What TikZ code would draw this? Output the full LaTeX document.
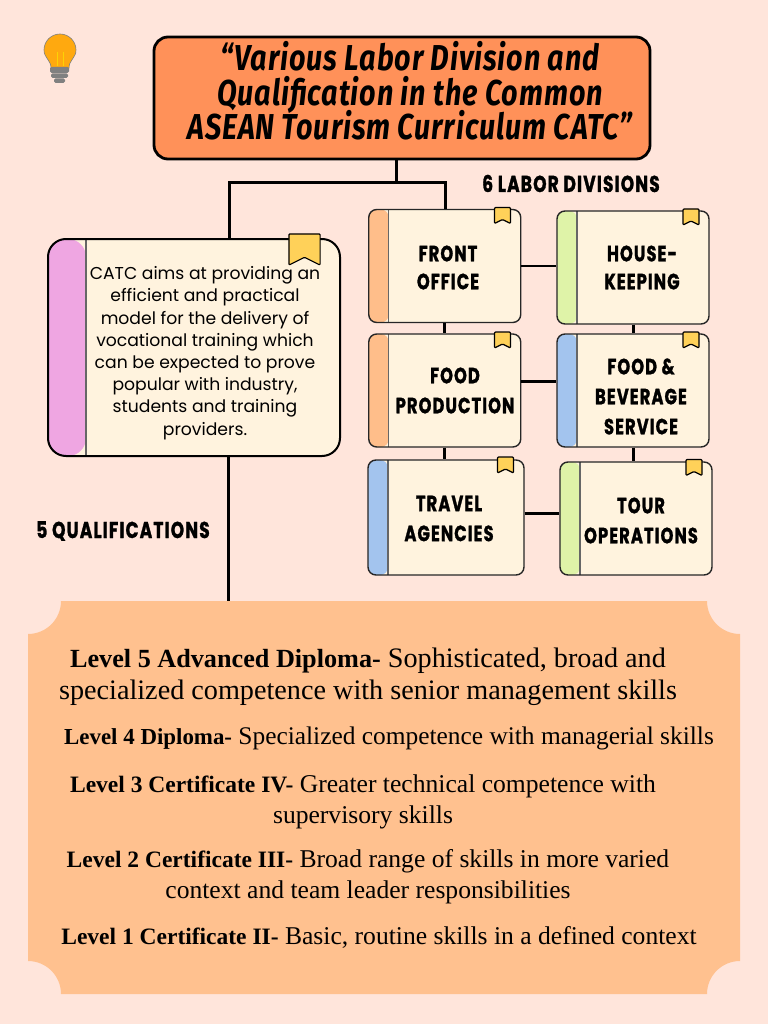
\documentclass[tikz,border=0pt]{standalone}
\usepackage{fontspec}
\setmainfont{Liberation Serif}
\newfontfamily\titlefont[FakeStretch=0.80,LetterSpace=2.5,BoldFeatures={FakeBold=0.8}]{Fira Sans}
\newfontfamily\headfont[FakeStretch=0.74,LetterSpace=5,BoldFeatures={FakeBold=1.2}]{Poppins}
\newfontfamily\bodyfont{Poppins}
\newcommand{\levelname}[2]{{\fontsize{#1}{#1}\selectfont\bfseries #2}}
\lineskiplimit=-100pt
\definecolor{paper}{HTML}{FFE5DB}
\definecolor{titlefill}{HTML}{FF9159}
\definecolor{cream}{HTML}{FFF3DE}
\definecolor{panelfill}{HTML}{FFC18F}
\definecolor{peach}{HTML}{FFBE8A}
\definecolor{lime}{HTML}{DFF3A8}
\definecolor{sky}{HTML}{A3C4EE}
\definecolor{orchid}{HTML}{EFA6E2}
\definecolor{tabyellow}{HTML}{FFD159}
\definecolor{bulbfill}{HTML}{FFA90F}
\tikzset{
  wire/.style={line width=3pt},
  thinwire/.style={line width=2pt},
  card/.style 2 args={draw=black!85, line width=1.4pt, rounded corners=8pt, fill=cream,
    path picture={\fill[#1] (path picture bounding box.south west) rectangle
      ([xshift=#2]path picture bounding box.north west);
      \draw[black!60, line width=1.4pt] ([xshift=#2]path picture bounding box.south west) --
      ([xshift=#2]path picture bounding box.north west);}},
  cardlabel/.style={font=\headfont\bfseries\fontsize{22}{30}\selectfont, align=center, inner sep=0pt},
  headlabel/.style={font=\headfont\bfseries\fontsize{23}{24}\selectfont, inner sep=0pt},
  level/.style={font=\fontsize{25.6}{31.5}\selectfont, align=center, inner sep=0pt},
  tabmark/.pic={\draw[fill=tabyellow, line width=1.2pt, line join=round, rounded corners=1pt]
    (-8,-8) -- (8,-8) -- (8,8) -- (0,4) -- (-8,8) -- cycle;}
}
\begin{document}
\begin{tikzpicture}[x=1pt,y=-1pt]
  \path[use as bounding box, fill=paper] (0,0) rectangle (768,1024);

  % bulb
  \draw[black!50, fill=bulbfill, line width=.6pt] (51,68) .. controls (51,60) and (44,58) .. (44,50)
    arc[start angle=180, end angle=360, radius=16] .. controls (76,58) and (69,60) .. (69,68) -- cycle;
  \draw[yellow!70!orange, line width=.7pt] (57,66) -- (57,52) (63,66) -- (63,52);
  \fill[black!50, rounded corners=1.5pt] (50,67) rectangle (69,73);
  \fill[black!50, rounded corners=1.5pt] (51,73.5) rectangle (68,78);
  \fill[black!50, rounded corners=1.5pt] (54,78.5) rectangle (65,83);

  % title
  \node[draw, line width=2.8pt, rounded corners=14pt, fill=titlefill, minimum width=496pt, minimum height=122pt]
    (title) at (402,98) {};
  \node[font=\titlefont\bfseries\itshape\fontsize{36}{34.5}\selectfont, align=center, inner sep=0pt] (titletext) at (410,91)
    {“Various Labor Division and\\Qualification in the Common\\ASEAN Tourism Curriculum CATC”};

  % cards
  \node[card={orchid}{38pt}, draw=black, line width=2pt, rounded corners=18pt, minimum width=292pt, minimum height=217pt] (aims) at (194,347.5) {};
  \node[card={peach}{20pt}, minimum width=152pt, minimum height=113pt] (office) at (444.75,266) {};
  \node[card={lime}{20pt}, minimum width=152pt, minimum height=113pt] (house) at (633,267.5) {};
  \node[card={peach}{20pt}, minimum width=152pt, minimum height=113pt] (production) at (444.75,390.5) {};
  \node[card={sky}{20pt}, minimum width=152pt, minimum height=113pt] (beverage) at (633,390.5) {};
  \node[card={sky}{20pt}, minimum width=156pt, minimum height=115pt] (travel) at (446,517.5) {};
  \node[card={lime}{20pt}, minimum width=152pt, minimum height=113pt] (tour) at (636,518.5) {};

  \node[font=\bodyfont\fontsize{17.2}{22.2}\selectfont, align=center, inner sep=0pt] (aimstext) at (205,353)
    {CATC aims at providing an\\efficient and practical\\model for the delivery of\\vocational training which\\can be expected to prove\\popular with industry,\\students and training\\providers.};
  \node[cardlabel] (officetext) at (448,267.5) {FRONT\\[-2pt]OFFICE};
  \node[cardlabel] (housetext) at (642,267.5) {HOUSE-\\[-2pt]KEEPING};
  \node[cardlabel] (productiontext) at (455,390.5) {FOOD\\PRODUCTION};
  \node[cardlabel] (beveragetext) at (641,396.5) {FOOD \&\\BEVERAGE\\SERVICE};
  \node[cardlabel] (traveltext) at (449,518.5) {TRAVEL\\AGENCIES};
  \node[cardlabel] (tourtext) at (641,520.5) {TOUR\\OPERATIONS};
  \node[headlabel] (divisions) at (571,183.5) {6 LABOR DIVISIONS};
  \node[headlabel] (qualifications) at (123,531) {5 QUALIFICATIONS};

  % tabs
  \path (304.5,249.5) pic[scale=1.95] {tabmark};
  \path (502.5,215.5) pic {tabmark};
  \path (691,217) pic {tabmark};
  \path (502.5,340) pic {tabmark};
  \path (691,340) pic {tabmark};
  \path (505.5,465) pic {tabmark};
  \path (694,467.5) pic {tabmark};

  % panel
  \fill[panelfill] (61,601) -- (707,601) arc[start angle=180, end angle=90, radius=33]
    -- (740,961) arc[start angle=270, end angle=180, radius=33]
    -- (61,994) arc[start angle=0, end angle=-90, radius=33]
    -- (28,634) arc[start angle=90, end angle=0, radius=33] -- cycle;
  \coordinate (paneltop) at (228,601);
  \node[level, font=\fontsize{28.2}{31.5}\selectfont] (five) at (368,677) {\levelname{26.2}{Level 5 Advanced Diploma-} Sophisticated, broad and\\specialized competence with senior management skills};
  \node[level, font=\fontsize{25.4}{31.5}\selectfont] (four) at (389,738) {\levelname{22.9}{Level 4 Diploma-} Specialized competence with managerial skills};
  \node[level] (three) at (363,802) {\levelname{23.5}{Level 3 Certificate IV-} Greater technical competence with\\supervisory skills};
  \node[level] (two) at (368,876.5) {\levelname{23.5}{Level 2 Certificate III-} Broad range of skills in more varied\\context and team leader responsibilities};
  \node[level] (one) at (379,937) {\levelname{23.5}{Level 1 Certificate II-} Basic, routine skills in a defined context};

  % connectors
  \coordinate (trunk) at (396,183);
  \coordinate (elbowleft) at (229,183);
  \coordinate (elbowright) at (445,183);
  \draw[wire] (title.south -| trunk) -- (trunk);
  \draw[wire] (aims.north -| elbowleft) -- (elbowleft) -- (elbowright) -- (office.north -| elbowright);
  \draw[wire] (aims.south -| paneltop) -- (paneltop);
  \draw[thinwire] (office.east) -- (office.east -| house.west);
  \draw[wire] ([yshift=9.5pt]production.east) -- ([yshift=9.5pt]production.east -| beverage.west);
  \draw[wire] ([yshift=4.5pt]travel.east) -- ([yshift=4.5pt]travel.east -| tour.west);
  \draw[wire] (office.south) -- (production.north);
  \draw[wire] (house.south) -- (beverage.north);
  \draw[wire] (production.south) -- (production.south |- travel.north);
  \draw[wire] (beverage.south) -- (beverage.south |- tour.north);
\end{tikzpicture}
\end{document}
